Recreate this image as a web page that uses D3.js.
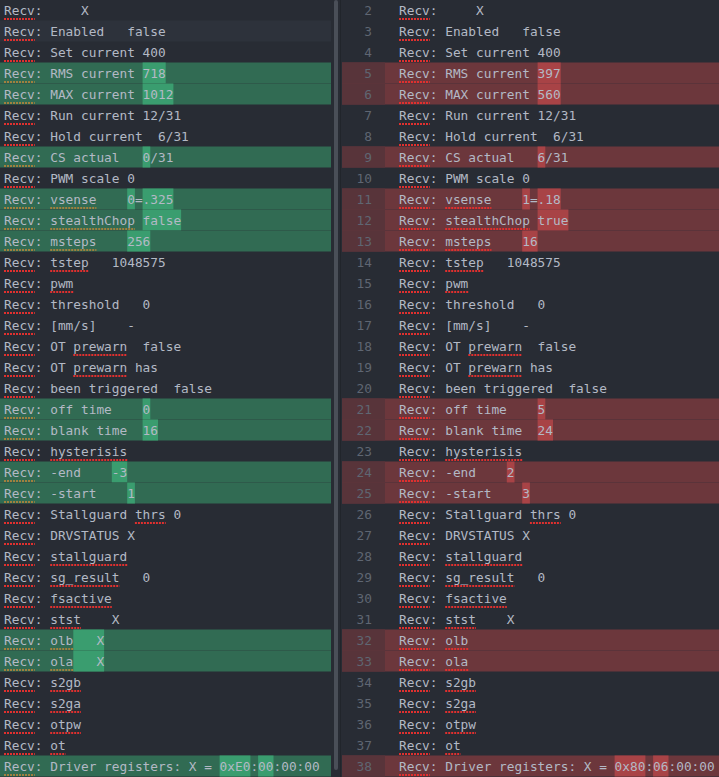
<!DOCTYPE html>
<html><head><meta charset="utf-8">
<script src="https://cdn.jsdelivr.net/npm/d3@7"></script>
<style>body{margin:0;background:#282c34;overflow:hidden}</style></head>
<body><svg id="c" width="719" height="777"></svg>
<script>
const lineNumbers = d3.range(2, 39);
const leftLines = ["Recv:     X","Recv: Enabled   false","Recv: Set current 400","Recv: RMS current 718","Recv: MAX current 1012","Recv: Run current 12/31","Recv: Hold current  6/31","Recv: CS actual   0/31","Recv: PWM scale 0","Recv: vsense    0=.325","Recv: stealthChop false","Recv: msteps    256","Recv: tstep   1048575","Recv: pwm","Recv: threshold   0","Recv: [mm/s]    -","Recv: OT prewarn  false","Recv: OT prewarn has","Recv: been triggered  false","Recv: off time    0","Recv: blank time  16","Recv: hysterisis","Recv: -end    -3","Recv: -start    1","Recv: Stallguard thrs 0","Recv: DRVSTATUS X","Recv: stallguard","Recv: sg_result   0","Recv: fsactive","Recv: stst    X","Recv: olb   X","Recv: ola   X","Recv: s2gb","Recv: s2ga","Recv: otpw","Recv: ot","Recv: Driver registers: X = 0xE0:00:00:00"];
const rightLines = leftLines.slice();
const rightChanges = {5:"Recv: RMS current 397",6:"Recv: MAX current 560",9:"Recv: CS actual   6/31",11:"Recv: vsense    1=.18",12:"Recv: stealthChop true",13:"Recv: msteps    16",21:"Recv: off time    5",22:"Recv: blank time  24",24:"Recv: -end    2",25:"Recv: -start    3",32:"Recv: olb",33:"Recv: ola",38:"Recv: Driver registers: X = 0x80:06:00:00"};
Object.entries(rightChanges).forEach(([n,t])=>rightLines[n-2]=t);
const changedLines = [5,6,9,11,12,13,21,22,24,25,32,33,38];
const leftHl = {5:[[18,21]],6:[[18,22]],9:[[18,19]],11:[[16,17],[18,22]],12:[[18,23]],13:[[16,19]],21:[[18,19]],22:[[18,20]],24:[[14,16]],25:[[16,17]],32:[[9,13]],33:[[9,13]],38:[[28,32],[33,35]]};
const rightHl = {5:[[18,21]],6:[[18,21]],9:[[18,19]],11:[[16,17],[18,21]],12:[[18,22]],13:[[16,18]],21:[[18,19]],22:[[18,20]],24:[[14,15]],25:[[16,17]],32:[],33:[],38:[[28,32],[33,35]]};
const spellWords = ["Recv","vsense","stealthChop","msteps","tstep","pwm","prewarn","hysterisis","thrs","stallguard","sg_result","fsactive","stst","olb","ola","s2gb","s2ga","otpw","ot"];

const svg = d3.select("#c");
const y = d3.scaleLinear().domain([2,38]).range([10,766]);
const cw = 7.7, rowH = 21;
const LX = 4, RX = 399;
const col = (x0,c)=>x0 + c*cw;

function pane(lines, hl, x0, x1, kind){
  const g = svg.append("g");
  lineNumbers.forEach((n,i)=>{
    const top = y(n)-rowH/2;
    const ch = changedLines.includes(n);
    if (ch) g.append("rect").attr("x",x0-4).attr("y",top).attr("width",x1-x0+4).attr("height",rowH).attr("fill",kind==="L"?"#316b53":"#6c373c");
    else if (n===3 && kind==="L") g.append("rect").attr("x",0).attr("y",top).attr("width",331).attr("height",rowH).attr("fill","#2d323b");
    if (ch) (hl[n]||[]).forEach(([a,b])=>g.append("rect").attr("x",col(x0,a)).attr("y",top).attr("width",(b-a)*cw).attr("height",rowH).attr("fill",kind==="L"?"#3a9d6f":"#a84346"));
    const t = lines[i];
    // spelling underlines
    spellWords.forEach(w=>{
      const re = new RegExp("(^|[^A-Za-z0-9_])("+w+")(?![A-Za-z0-9_])","g"); let m;
      while((m=re.exec(t))){ const s=m.index+m[1].length;
        g.append("line").attr("x1",col(x0,s)).attr("x2",col(x0,s+w.length)).attr("y1",top+rowH-1.5).attr("y2",top+rowH-1.5)
          .attr("stroke",ch&&kind==="L"?"#a0803f":"#e0302f").attr("stroke-width",2).attr("stroke-dasharray","2,1");
      }
    });
    g.append("text").attr("x",x0).attr("y",y(n)+4.5).attr("xml:space","preserve").style("white-space","pre")
      .attr("font-family","DejaVu Sans Mono").attr("font-size","12.8px").attr("fill","#b3b9c5")
      .attr("textLength",t.length*cw).attr("lengthAdjust","spacingAndGlyphs").text(t);
  });
}
pane(leftLines,leftHl,LX,331,"L");
// right gutter
lineNumbers.forEach(n=>{
  const top=y(n)-rowH/2;
  if(changedLines.includes(n)){
    svg.append("rect").attr("x",342).attr("y",top).attr("width",719-342).attr("height",rowH).attr("fill","#6c373c");
    svg.append("rect").attr("x",342).attr("y",top).attr("width",43).attr("height",rowH).attr("fill","#58343a");
  }
});
pane(rightLines,rightHl,RX,719,"R");
svg.selectAll("rect").filter(function(){return +this.getAttribute("x")===RX-4;}).remove();
lineNumbers.forEach(n=>svg.append("text").attr("x",372).attr("y",y(n)+4.5).attr("text-anchor","end")
  .attr("font-family","DejaVu Sans Mono").attr("font-size","12.8px").attr("fill","#5f6672").text(n));
// divider / scrollbar
svg.append("rect").attr("x",331).attr("y",0).attr("width",11).attr("height",777).attr("fill","#282c34");
svg.append("rect").attr("x",334).attr("y",0).attr("width",4).attr("height",770).attr("rx",2).attr("fill","#4a4f58");
svg.append("rect").attr("x",340).attr("y",0).attr("width",1).attr("height",777).attr("fill","#21252b");
</script></body></html>
